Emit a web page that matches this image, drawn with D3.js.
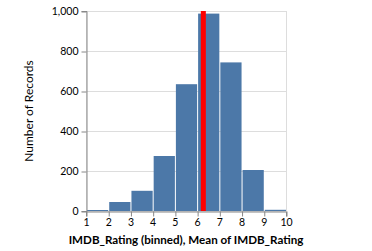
<!DOCTYPE html>
<html><head><meta charset="utf-8">
<script src="https://cdn.jsdelivr.net/npm/d3@7"></script>
<style>body{margin:0;background:#fff}svg{display:block}text{font-family:Lato,sans-serif}</style>
</head><body><svg id="c" width="372" height="251"></svg>
<script>
const binStarts = [1,2,3,4,5,6,7,8,9];
const binStep = 1;
const counts = [5,45,101,275,634,987,743,205,6];
const meanRating = 6.28;
const yTicks = [0,200,400,600,800,1000];
const xTicks = [1,2,3,4,5,6,7,8,9,10];
const FONT = 'Lato, sans-serif';

const svg = d3.select("#c");
const m = {l:86, t:11, w:200, h:200};
const g = svg.append("g").attr("transform",`translate(${m.l},${m.t})`);
const x = d3.scaleLinear().domain([1,10]).range([0,m.w]);
const y = d3.scaleLinear().domain([0,1000]).range([m.h,0]);

// view border
g.append("rect").attr("x",0.5).attr("y",0.5).attr("width",m.w).attr("height",m.h)
  .attr("fill","none").attr("stroke","#ddd");
// grid
g.append("g").selectAll("line").data(yTicks).join("line")
  .attr("x1",0).attr("x2",m.w).attr("y1",d=>y(d)+0.5).attr("y2",d=>y(d)+0.5)
  .attr("stroke","#ddd");

// bars
g.append("g").selectAll("rect").data(binStarts).join("rect")
  .attr("x",(d)=>x(d)+1).attr("width",d=>x(d+binStep)-x(d)-1)
  .attr("y",(d,i)=>y(counts[i])).attr("height",(d,i)=>y(0)-y(counts[i]))
  .attr("fill","#4c78a8");

// mean rule
g.append("line").attr("x1",x(meanRating)).attr("x2",x(meanRating))
  .attr("y1",0).attr("y2",m.h).attr("stroke","red").attr("stroke-width",5);

// axes
const xa = g.append("g").attr("transform",`translate(0,${m.h+0.5})`)
  .call(d3.axisBottom(x).tickValues(xTicks).tickSize(5).tickPadding(2).tickFormat(d3.format("d")));
const ya = g.append("g").attr("transform","translate(0.5,0)")
  .call(d3.axisLeft(y).tickValues(yTicks).tickSize(5).tickPadding(3).tickFormat(d3.format(",")));
[xa,ya].forEach(a=>{
  a.select(".domain").attr("stroke","#888");
  a.selectAll(".tick line").attr("stroke","#888");
  a.selectAll(".tick text").attr("fill","#000").style("font-size","10.5px").style("font-family",FONT);
});
xa.selectAll(".tick line").attr("transform","translate(0.5,0)");
ya.selectAll(".tick line").attr("transform","translate(0,0.5)");

svg.append("text").attr("x",m.l+m.w/2).attr("y",244).attr("text-anchor","middle")
  .style("font-size","11.6px").style("font-weight","bold").text("IMDB_Rating (binned), Mean of IMDB_Rating");
svg.append("text").attr("transform",`translate(33,${m.t+m.h/2}) rotate(-90)`).attr("text-anchor","middle")
  .style("font-size","12px").text("Number of Records");
</script></body></html>
